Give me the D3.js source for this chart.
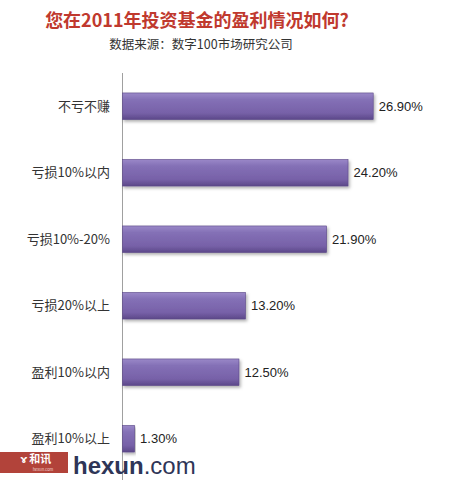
<!doctype html>
<html>
  <head>
    <meta charset="utf-8">
    <title>2011年投资基金盈利情况</title>
    <style>
      body { margin: 0; background: #fff; }
      text { font-family: "Noto Sans CJK SC", "Noto Sans", sans-serif; }
      .cat text { font-size: 13px; fill: #333; }
      .val { font-size: 13px; fill: #222; font-family: "Liberation Sans", Arial, sans-serif; }
      .domain { stroke: #a0a0a0; stroke-width: 1px; }
    </style>
    <script src="https://cdn.jsdelivr.net/npm/d3@7/dist/d3.min.js"></script>
  </head>
  <body>
  <script>
    const categories = ["不亏不赚", "亏损10%以内", "亏损10%-20%", "亏损20%以上", "盈利10%以内", "盈利10%以上"];
    const values = [26.9, 24.2, 21.9, 13.2, 12.5, 1.3];
    const valueLabels = ["26.90%", "24.20%", "21.90%", "13.20%", "12.50%", "1.30%"];

    const width = 450, height = 483;
    const left = 122;

    const svg = d3.select("body").append("svg")
        .attr("width", width)
        .attr("height", height);

    // bar gradient + soft shadow
    const defs = svg.append("defs");
    const grad = defs.append("linearGradient")
        .attr("id", "barGrad")
        .attr("x1", 0).attr("y1", 0).attr("x2", 0).attr("y2", 1);
    grad.append("stop").attr("offset", "0%").attr("stop-color", "#9a88c8");
    grad.append("stop").attr("offset", "25%").attr("stop-color", "#8470b6");
    grad.append("stop").attr("offset", "75%").attr("stop-color", "#7761a8");
    grad.append("stop").attr("offset", "100%").attr("stop-color", "#5c4889");

    const shadow = defs.append("filter").attr("id", "shadow")
        .attr("x", "-5%").attr("y", "-20%").attr("width", "115%").attr("height", "160%");
    shadow.append("feDropShadow")
        .attr("dx", 1.5).attr("dy", 2).attr("stdDeviation", 1.5)
        .attr("flood-color", "#000").attr("flood-opacity", 0.3);

    // title
    svg.append("text")
        .attr("x", 197).attr("y", 27)
        .attr("text-anchor", "middle")
        .style("font-size", "18px")
        .style("font-weight", "bold")
        .style("fill", "#c0392e")
        .text("您在2011年投资基金的盈利情况如何?");

    svg.append("text")
        .attr("x", 201).attr("y", 49)
        .attr("text-anchor", "middle")
        .style("font-size", "12.5px")
        .style("fill", "#333")
        .text("数据来源：数字100市场研究公司");

    const x = d3.scaleLinear()
        .domain([0, 30])
        .range([left, left + 9.32 * 30]);

    const y = d3.scaleBand()
        .domain(categories)
        .range([73, 472])
        .paddingInner(0.6)
        .paddingOuter(0.3);

    const yAxis = svg.append("g")
        .attr("class", "cat")
        .attr("transform", "translate(" + left + ",0)")
        .call(d3.axisLeft(y).tickSize(0).tickPadding(12));
    yAxis.select(".domain").attr("d", "M0.5,73V480");
    yAxis.selectAll("text").attr("dy", "0.35em");

    svg.selectAll(".bar")
        .data(values)
        .enter().append("rect")
        .attr("class", "bar")
        .attr("x", x(0) + 0.5)
        .attr("y", (d, i) => y(categories[i]))
        .attr("width", d => x(d) - x(0))
        .attr("height", y.bandwidth())
        .attr("fill", "url(#barGrad)")
        .attr("stroke", "#5a4786")
        .attr("stroke-width", 0.6)
        .attr("filter", "url(#shadow)");

    svg.selectAll(".val")
        .data(values)
        .enter().append("text")
        .attr("class", "val")
        .attr("x", d => x(d) + 6)
        .attr("y", (d, i) => y(categories[i]) + y.bandwidth() / 2)
        .attr("dy", "0.36em")
        .text((d, i) => valueLabels[i]);

    // hexun watermark
    const wm = svg.append("g");
    wm.append("rect")
        .attr("x", 0).attr("y", 452)
        .attr("width", 68).attr("height", 21)
        .attr("fill", "#b2433a");
    wm.append("text")
        .attr("x", 36).attr("y", 463)
        .attr("text-anchor", "middle")
        .style("font-size", "11px")
        .style("font-weight", "bold")
        .style("fill", "#fff")
        .text("ɤ 和讯");
    wm.append("text")
        .attr("x", 43).attr("y", 471)
        .attr("text-anchor", "middle")
        .style("font-size", "4px")
        .style("fill", "#f3d6d2")
        .text("hexun.com");
    wm.append("text")
        .attr("x", 73).attr("y", 474)
        .style("font-family", "'Liberation Sans', Arial, sans-serif")
        .style("font-size", "24px")
        .style("fill", "#2e3557")
        .html('<tspan style="font-weight:bold">hexun</tspan><tspan>.com</tspan>');
  </script>
  </body>
</html>
